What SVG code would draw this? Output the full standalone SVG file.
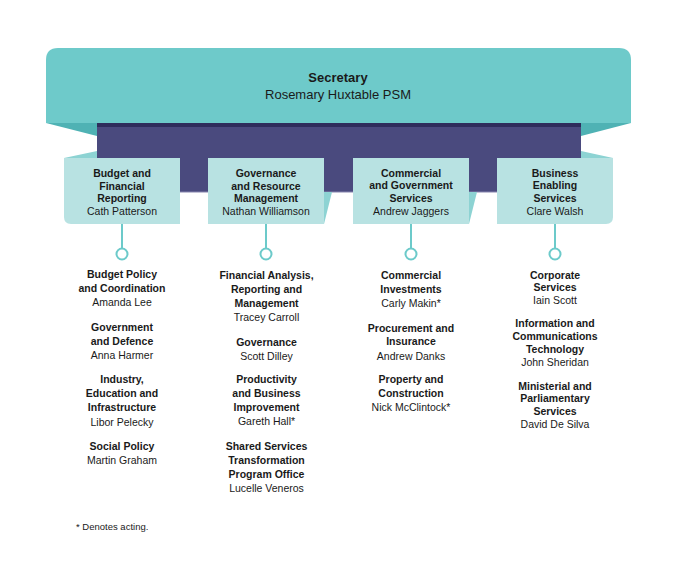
<svg xmlns="http://www.w3.org/2000/svg" width="680" height="579" viewBox="0 0 680 579">
<style>
  text { font-family: "Liberation Sans", Arial, sans-serif; fill: #1a1a1a; text-anchor: middle; }
  .t { font-size: 13px; }
  .b { font-weight: bold; }
  .h { font-size: 10.5px; }
  .s { font-size: 10.5px; }
  .box { fill: #b8e2e2; }
  .fold { fill: #8dd3d3; }
  .conn { stroke: #6ccaca; stroke-width: 2; fill: none; }
  .dot { stroke: #6ccaca; stroke-width: 2; fill: #ffffff; }
</style>
<rect width="680" height="579" fill="#ffffff"/>

<g id="secretary">
  <path d="M46,123 V60 Q46,48 58,48 H619 Q631,48 631,60 V123 Z" fill="#6ecaca"/>
  <polygon points="46,123 97,123 97,136" fill="#4fb2b4"/>
  <polygon points="631,123 581,123 581,136" fill="#4fb2b4"/>
  <rect x="97" y="123" width="484" height="69" fill="#4a4a7e"/>
  <rect x="97" y="123" width="484" height="4" fill="#2f2d5c"/>
  <rect x="97" y="191.5" width="484" height="1" fill="#8583ad"/>
  <text class="t b" x="338" y="82">Secretary</text>
  <text class="t" x="338" y="99">Rosemary Huxtable PSM</text>
</g>

<g id="connectors">
  <line class="conn" x1="122" y1="224" x2="122" y2="248"/>
  <circle class="dot" cx="122" cy="254" r="5.5"/>
  <line class="conn" x1="266" y1="224" x2="266" y2="248"/>
  <circle class="dot" cx="266" cy="254" r="5.5"/>
  <line class="conn" x1="411" y1="224" x2="411" y2="248"/>
  <circle class="dot" cx="411" cy="254" r="5.5"/>
  <line class="conn" x1="555" y1="224" x2="555" y2="248"/>
  <circle class="dot" cx="555" cy="254" r="5.5"/>
</g>

<g id="box-budget">
  <polygon class="fold" points="64,158 97,151 97,158"/>
  <path class="box" d="M64,158 H180 V224 H71 Q64,224 64,217 Z"/>
  <text class="h b" x="122" y="177">Budget and</text>
  <text class="h b" x="122" y="189.7">Financial</text>
  <text class="h b" x="122" y="202.4">Reporting</text>
  <text class="h" x="122" y="215">Cath Patterson</text>
</g>

<g id="box-governance">
  <polygon class="fold" points="324,192 332,192 324,224"/>
  <rect class="box" x="208" y="158" width="116" height="66"/>
  <text class="h b" x="266" y="177">Governance</text>
  <text class="h b" x="266" y="189.7">and Resource</text>
  <text class="h b" x="266" y="202.4">Management</text>
  <text class="h" x="266" y="215">Nathan Williamson</text>
</g>

<g id="box-commercial">
  <polygon class="fold" points="469,192 477,192 469,224"/>
  <rect class="box" x="353" y="158" width="116" height="66"/>
  <text class="h b" x="411" y="176.5">Commercial</text>
  <text class="h b" x="411" y="189.2">and Government</text>
  <text class="h b" x="411" y="201.9">Services</text>
  <text class="h" x="411" y="214.5">Andrew Jaggers</text>
</g>

<g id="box-business">
  <polygon class="fold" points="581,151 613,158 581,158"/>
  <path class="box" d="M497,158 H613 V217 Q613,224 606,224 H497 Z"/>
  <text class="h b" x="555" y="176.5">Business</text>
  <text class="h b" x="555" y="189.2">Enabling</text>
  <text class="h b" x="555" y="201.9">Services</text>
  <text class="h" x="555" y="214.5">Clare Walsh</text>
</g>

<g id="list-budget">
  <text class="s b" x="122" y="278">Budget Policy</text>
  <text class="s b" x="122" y="292">and Coordination</text>
  <text class="s" x="122" y="306">Amanda Lee</text>
  <text class="s b" x="122" y="330.5">Government</text>
  <text class="s b" x="122" y="344.5">and Defence</text>
  <text class="s" x="122" y="358.5">Anna Harmer</text>
  <text class="s b" x="122" y="383">Industry,</text>
  <text class="s b" x="122" y="397">Education and</text>
  <text class="s b" x="122" y="411">Infrastructure</text>
  <text class="s" x="122" y="425.5">Libor Pelecky</text>
  <text class="s b" x="122" y="449.5">Social Policy</text>
  <text class="s" x="122" y="463.5">Martin Graham</text>
</g>

<g id="list-governance">
  <text class="s b" x="266.5" y="278.5">Financial Analysis,</text>
  <text class="s b" x="266.5" y="292.5">Reporting and</text>
  <text class="s b" x="266.5" y="306.5">Management</text>
  <text class="s" x="266.5" y="320.5">Tracey Carroll</text>
  <text class="s b" x="266.5" y="345.5">Governance</text>
  <text class="s" x="266.5" y="359.5">Scott Dilley</text>
  <text class="s b" x="266.5" y="383">Productivity</text>
  <text class="s b" x="266.5" y="397">and Business</text>
  <text class="s b" x="266.5" y="411">Improvement</text>
  <text class="s" x="266.5" y="425">Gareth Hall*</text>
  <text class="s b" x="266.5" y="449.5">Shared Services</text>
  <text class="s b" x="266.5" y="463.5">Transformation</text>
  <text class="s b" x="266.5" y="477.5">Program Office</text>
  <text class="s" x="266.5" y="492">Lucelle Veneros</text>
</g>

<g id="list-commercial">
  <text class="s b" x="411" y="278.5">Commercial</text>
  <text class="s b" x="411" y="292.5">Investments</text>
  <text class="s" x="411" y="306.5">Carly Makin*</text>
  <text class="s b" x="411" y="331.5">Procurement and</text>
  <text class="s b" x="411" y="345">Insurance</text>
  <text class="s" x="411" y="359.5">Andrew Danks</text>
  <text class="s b" x="411" y="383">Property and</text>
  <text class="s b" x="411" y="397">Construction</text>
  <text class="s" x="411" y="411">Nick McClintock*</text>
</g>

<g id="list-business">
  <text class="s b" x="555" y="278.5">Corporate</text>
  <text class="s b" x="555" y="291">Services</text>
  <text class="s" x="555" y="303.7">Iain Scott</text>
  <text class="s b" x="555" y="327">Information and</text>
  <text class="s b" x="555" y="340">Communications</text>
  <text class="s b" x="555" y="353">Technology</text>
  <text class="s" x="555" y="365.7">John Sheridan</text>
  <text class="s b" x="555" y="389.5">Ministerial and</text>
  <text class="s b" x="555" y="402">Parliamentary</text>
  <text class="s b" x="555" y="414.7">Services</text>
  <text class="s" x="555" y="427.7">David De Silva</text>
</g>

<g id="footnote">
  <text x="76" y="529.5" style="font-size:9.5px; text-anchor:start">* Denotes acting.</text>
</g>
</svg>
